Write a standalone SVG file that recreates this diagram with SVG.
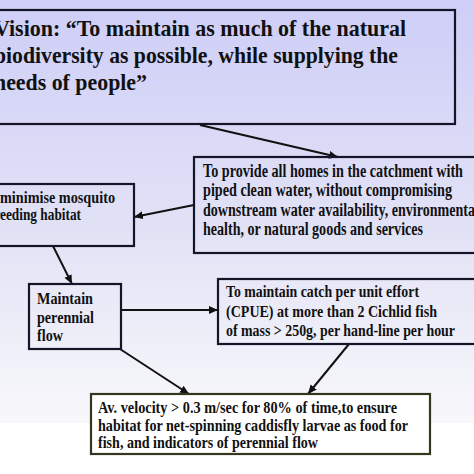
<svg xmlns="http://www.w3.org/2000/svg" width="474" height="474" viewBox="0 0 474 474">
<defs>
<linearGradient id="bg" x1="0" y1="0" x2="0" y2="1">
<stop offset="0" stop-color="#cecef8"/>
<stop offset="0.55" stop-color="#e2e2f6"/>
<stop offset="1" stop-color="#f8f8fb"/>
</linearGradient>
<marker id="arr" markerUnits="userSpaceOnUse" markerWidth="10" markerHeight="10" refX="9" refY="4" orient="auto">
<path d="M0,0 L9,4 L0,8 Z" fill="#111"/>
</marker>
</defs>
<style>
.box{fill:none;stroke:#15152a;stroke-width:2.2}
.t{font-family:"Liberation Serif","Times New Roman",serif;font-weight:bold;fill:#111}
.v{font-size:24px}
.m{font-size:18px}
.q{font-size:16.5px}
.s{font-size:17px}
.w{font-size:16px}
.c{stroke:#111;stroke-width:2;fill:none;marker-end:url(#arr)}
</style>
<rect x="0" y="0" width="474" height="474" fill="#ffffff"/>
<rect x="0" y="0" width="474" height="423" fill="url(#bg)"/>

<g id="connectors">
<line class="c" x1="200" y1="125" x2="338" y2="157"/>
<line class="c" x1="194" y1="205" x2="134" y2="217"/>
<line class="c" x1="53" y1="246" x2="72" y2="284"/>
<line class="c" x1="121" y1="310" x2="218" y2="310"/>
<line class="c" x1="120" y1="349" x2="189" y2="394"/>
<line class="c" x1="349" y1="344" x2="308" y2="394"/>
</g>

<g id="vision">
<rect class="box" x="-10" y="10" width="465" height="114"/>
<text class="t v" x="-6" y="36" textLength="412" lengthAdjust="spacingAndGlyphs">Vision: “To maintain as much of the natural</text>
<text class="t v" x="-6" y="63" textLength="404" lengthAdjust="spacingAndGlyphs">biodiversity as possible, while supplying the</text>
<text class="t v" x="-6" y="90" textLength="153" lengthAdjust="spacingAndGlyphs">needs of people”</text>
</g>

<g id="homes">
<rect class="box" x="194" y="157" width="290" height="96"/>
<text class="t m" x="203" y="177" textLength="260" lengthAdjust="spacingAndGlyphs">To provide all homes in the catchment with</text>
<text class="t m" x="203" y="196" textLength="249" lengthAdjust="spacingAndGlyphs">piped clean water, without compromising</text>
<text class="t m" x="203" y="216" textLength="276" lengthAdjust="spacingAndGlyphs">downstream water availability, environmental</text>
<text class="t m" x="203" y="235" textLength="220" lengthAdjust="spacingAndGlyphs">health, or natural goods and services</text>
</g>

<g id="mosquito">
<rect class="box" x="-10" y="184" width="144" height="62"/>
<text class="t q" x="0" y="203" textLength="115" lengthAdjust="spacingAndGlyphs">minimise mosquito</text>
<text class="t q" x="-13" y="220" textLength="94" lengthAdjust="spacingAndGlyphs">breeding habitat</text>
</g>

<g id="perennial">
<rect class="box" x="29" y="284" width="92" height="65"/>
<text class="t s" x="37" y="304" textLength="56" lengthAdjust="spacingAndGlyphs">Maintain</text>
<text class="t s" x="37" y="323" textLength="57" lengthAdjust="spacingAndGlyphs">perennial</text>
<text class="t s" x="37" y="341" textLength="26" lengthAdjust="spacingAndGlyphs">flow</text>
</g>

<g id="cpue">
<rect class="box" x="218" y="279" width="266" height="65"/>
<text class="t s" x="226" y="297" textLength="193" lengthAdjust="spacingAndGlyphs">To maintain catch per unit effort</text>
<text class="t s" x="226" y="317" textLength="211" lengthAdjust="spacingAndGlyphs">(CPUE) at more than 2 Cichlid fish</text>
<text class="t s" x="226" y="336" textLength="229" lengthAdjust="spacingAndGlyphs">of mass &gt; 250g, per hand-line per hour</text>
</g>

<g id="velocity">
<rect x="91" y="394" width="339" height="60" fill="#ffffff" stroke="#36361e" stroke-width="2.2"/>
<text class="t w" x="98" y="413" textLength="299" lengthAdjust="spacingAndGlyphs">Av. velocity &gt; 0.3 m/sec for 80% of time,to ensure</text>
<text class="t w" x="98" y="431" textLength="310" lengthAdjust="spacingAndGlyphs">habitat for net-spinning caddisfly larvae as food for</text>
<text class="t w" x="98" y="448" textLength="220" lengthAdjust="spacingAndGlyphs">fish, and indicators of perennial flow</text>
</g>
</svg>
